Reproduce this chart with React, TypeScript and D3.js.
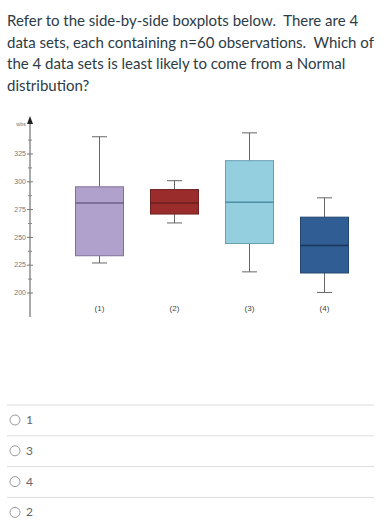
import React from "react";
import * as d3 from "d3";

const questionLines = [
  "Refer to the side-by-side boxplots below.  There are 4",
  "data sets, each containing n=60 observations.  Which of",
  "the 4 data sets is least likely to come from a Normal",
  "distribution?",
];

const groups = ["(1)", "(2)", "(3)", "(4)"];
const whiskerLow = [227, 263, 219, 200.5];
const boxLow = [233.5, 271, 244.5, 218];
const medians = [281, 281, 281.7, 242.7];
const boxHigh = [295.5, 293, 319, 268.2];
const whiskerHigh = [340.5, 301, 344, 285.6];

const fills = ["#b0a0cc", "#9a2c2c", "#93cfdf", "#2f5d94"];
const strokes = ["#7f7096", "#6f2020", "#6a9fb0", "#24476f"];
const medianColors = ["#6d5f86", "#6b1d1d", "#4f8ea3", "#1b3658"];

const majorTicks = [200, 225, 250, 275, 300, 325];
const minorTicks = [212.5, 237.5, 262.5, 287.5, 312.5, 337.5];
const axisName = "wbs";

const choices = ["1", "3", "4", "2"];

export default function App() {
  const width = 386;
  const height = 529;

  const y = d3.scaleLinear().domain([200, 325]).range([293, 154]);
  const x = d3
    .scaleBand()
    .domain(groups)
    .range([62, 362])
    .paddingInner(0.36)
    .paddingOuter(0.18);

  const axisX = 30;
  const bw = x.bandwidth();
  const cap = 15;

  return (
    <svg
      width={width}
      height={height}
      style={{ position: "absolute", left: 0, top: 0, background: "#fff" }}
    >
      {questionLines.map((t, i) => (
        <text
          key={i}
          x={7}
          y={26 + i * 21.6}
          fontFamily="Lato"
          fontSize={15}
          fill="#2d3b45"
          style={{ whiteSpace: "pre" }}
        >
          {t}
        </text>
      ))}

      {/* y axis */}
      <g>
        <line x1={axisX} x2={axisX} y1={121} y2={317} stroke="#555" strokeWidth={1} />
        <path d={`M${axisX - 3},${124} L${axisX},${116} L${axisX + 3},${124} Z`} fill="#222" />
        <text x={axisX - 4} y={126} textAnchor="end" fontFamily="Arial" fontSize={5.5} fill="#777">
          {axisName}
        </text>
        {majorTicks.map((v) => (
          <g key={v} transform={`translate(0,${y(v)})`}>
            <line x1={axisX - 3} x2={axisX + 3} stroke="#777" />
            <text
              x={axisX - 4}
              dy="0.32em"
              textAnchor="end"
              fontFamily="Arial"
              fontSize={7}
              fill="#777"
            >
              {v}
            </text>
          </g>
        ))}
        {minorTicks.map((v) => (
          <line key={v} x1={axisX - 2} x2={axisX + 2} y1={y(v)} y2={y(v)} stroke="#888" />
        ))}
      </g>

      {/* boxes */}
      {groups.map((g, i) => {
        const x0 = x(g) as number;
        const cx = x0 + bw / 2;
        return (
          <g key={g}>
            <line x1={cx} x2={cx} y1={y(whiskerHigh[i])} y2={y(boxHigh[i])} stroke="#666" />
            <line x1={cx} x2={cx} y1={y(boxLow[i])} y2={y(whiskerLow[i])} stroke="#666" />
            <line x1={cx - cap / 2} x2={cx + cap / 2} y1={y(whiskerHigh[i])} y2={y(whiskerHigh[i])} stroke="#666" />
            <line x1={cx - cap / 2} x2={cx + cap / 2} y1={y(whiskerLow[i])} y2={y(whiskerLow[i])} stroke="#666" />
            <rect
              x={x0}
              y={y(boxHigh[i])}
              width={bw}
              height={y(boxLow[i]) - y(boxHigh[i])}
              fill={fills[i]}
              stroke={strokes[i]}
              strokeWidth={1}
            />
            <line
              x1={x0}
              x2={x0 + bw}
              y1={y(medians[i])}
              y2={y(medians[i])}
              stroke={medianColors[i]}
              strokeWidth={1.5}
            />
            <text
              x={cx}
              y={311}
              textAnchor="middle"
              fontFamily="Arial"
              fontSize={8}
              fill="#444"
            >
              {g}
            </text>
          </g>
        );
      })}

      {/* answer choices */}
      {choices.map((c, i) => {
        const top = 405 + i * 30.8;
        return (
          <g key={c}>
            <line x1={7} x2={374} y1={top} y2={top} stroke="#ddd" />
            <circle cx={15} cy={top + 15} r={5} fill="#fff" stroke="#999" strokeWidth={1} />
            <text x={26} y={top + 19} fontFamily="Lato" fontSize={12} fill="#666">
              {c}
            </text>
          </g>
        );
      })}
    </svg>
  );
}
